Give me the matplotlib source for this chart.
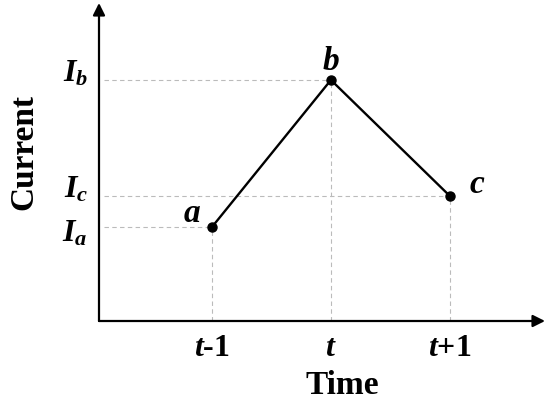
import matplotlib.pyplot as plt

plt.rcParams["font.family"] = "Liberation Serif"
plt.rcParams["font.weight"] = "bold"
plt.rcParams["mathtext.fontset"] = "custom"
plt.rcParams["mathtext.it"] = "Liberation Serif:italic:bold"
plt.rcParams["mathtext.rm"] = "Liberation Serif:bold"
plt.rcParams["mathtext.bf"] = "Liberation Serif:bold"

# three sampling instants and the current at each
times = [1, 2, 3]
time_labels = [r"$t$-1", r"$t$", r"$t$+1"]
currents = [0.94, 2.41, 1.25]
point_names = ["a", "b", "c"]
level_labels = [r"$I_a$", r"$I_b$", r"$I_c$"]

W, H = 550, 406
fig = plt.figure(figsize=(W / 100, H / 100), dpi=100)
# axes corner at pixel (99, 322), arrow tips at x=545 and y=4
ax = fig.add_axes([99 / W, (H - 322) / H, (545 - 99) / W, (322 - 4) / H])
ax.set_xlim(0.05, 3.80)
ax.set_ylim(0, 3.18)
for s in ax.spines.values():
    s.set_visible(False)
ax.set_yticks([])
ax.set_xticks(times, time_labels, fontsize=23)
ax.tick_params(axis="x", length=0, pad=9)

# axes with arrow heads
arrow = dict(arrowstyle="-|>", color="black", lw=1.6, mutation_scale=18,
             shrinkA=0, shrinkB=0)
ax.annotate("", xy=(1, 0), xytext=(0, 0), xycoords="axes fraction",
            arrowprops=arrow)
ax.annotate("", xy=(0, 1), xytext=(0, 0), xycoords="axes fraction",
            arrowprops=arrow)

# dashed guide lines
x0 = ax.get_xlim()[0] + 0.04
for t, c in zip(times, currents):
    ax.plot([x0, t], [c, c], ls=(0, (4, 3)), color="#bbbbbb", lw=0.8, zorder=1)
    ax.plot([t, t], [0, c], ls=(0, (4, 3)), color="#bbbbbb", lw=0.8, zorder=1)

ax.plot(times, currents, color="black", lw=1.7, marker="o", ms=6.5, zorder=3)

# point names
offsets = [(-8, 4, "right"), (0, 8, "center"), (14, 3, "left")]
for t, c, name, (dx, dy, ha) in zip(times, currents, point_names, offsets):
    ax.annotate(rf"$\mathit{{{name}}}$", xy=(t, c), xytext=(dx, dy),
                textcoords="offset points", ha=ha, va="baseline", fontsize=24)

# current levels on the y axis
level_dy = [-10, 0, 0]
for c, lab, dy in zip(currents, level_labels, level_dy):
    ax.annotate(lab, xy=(0, c), xycoords=("axes fraction", "data"),
                xytext=(-8, dy), textcoords="offset points",
                ha="right", va="baseline", fontsize=23)

fig.text(24 / W, 1 - 152 / H, "Current", rotation=90, ha="center",
         va="center", fontsize=24)
fig.text(342 / W, 1 - 386 / H, "Time", ha="center", va="center", fontsize=24)

fig.savefig("out.png", dpi=100)
